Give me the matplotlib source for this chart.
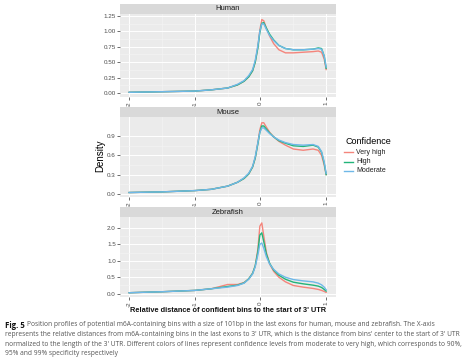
import numpy as np
import matplotlib
matplotlib.use("Agg")
import matplotlib.pyplot as plt

# values
xs = [-2, -1.5, -1, -0.75, -0.5, -0.35, -0.25, -0.18, -0.12, -0.08, -0.04, -0.01, 0.02,
      0.05, 0.09, 0.14, 0.2, 0.28, 0.38, 0.5, 0.65, 0.8, 0.88, 0.93, 0.97, 1.0]

human_vh = [0.01, 0.02, 0.03, 0.05, 0.08, 0.13, 0.19, 0.26, 0.36, 0.5, 0.75, 1.02, 1.19,
            1.17, 1.05, 0.92, 0.8, 0.7, 0.65, 0.65, 0.66, 0.67, 0.68, 0.66, 0.55, 0.38]
human_h = [0.01, 0.02, 0.03, 0.05, 0.08, 0.13, 0.19, 0.26, 0.36, 0.5, 0.73, 0.98, 1.13,
           1.14, 1.05, 0.95, 0.86, 0.77, 0.72, 0.7, 0.7, 0.71, 0.73, 0.72, 0.6, 0.4]
human_m = [0.01, 0.02, 0.03, 0.05, 0.08, 0.14, 0.2, 0.28, 0.38, 0.53, 0.77, 1.0, 1.12,
           1.12, 1.03, 0.93, 0.85, 0.77, 0.72, 0.7, 0.7, 0.71, 0.72, 0.71, 0.6, 0.42]

mouse_vh = [0.02, 0.03, 0.05, 0.07, 0.12, 0.18, 0.24, 0.31, 0.42, 0.56, 0.8, 1.0, 1.11,
            1.11, 1.04, 0.96, 0.89, 0.82, 0.76, 0.7, 0.68, 0.7, 0.68, 0.6, 0.45, 0.3]
mouse_h = [0.02, 0.03, 0.05, 0.07, 0.12, 0.18, 0.24, 0.31, 0.42, 0.56, 0.78, 0.96, 1.06,
           1.06, 1.01, 0.95, 0.89, 0.83, 0.79, 0.75, 0.74, 0.76, 0.73, 0.65, 0.48, 0.3]
mouse_m = [0.02, 0.03, 0.05, 0.07, 0.12, 0.18, 0.25, 0.32, 0.43, 0.58, 0.8, 0.96, 1.03,
           1.03, 0.99, 0.94, 0.89, 0.84, 0.8, 0.77, 0.76, 0.77, 0.74, 0.66, 0.5, 0.32]

zebra_vh = [0.03, 0.06, 0.1, 0.15, 0.28, 0.28, 0.34, 0.45, 0.62, 0.85, 1.35, 2.05, 2.15,
            1.75, 1.25, 0.9, 0.68, 0.5, 0.36, 0.25, 0.2, 0.16, 0.13, 0.1, 0.07, 0.04]
zebra_h = [0.03, 0.06, 0.1, 0.15, 0.22, 0.26, 0.33, 0.45, 0.62, 0.85, 1.28, 1.78, 1.85,
           1.58, 1.2, 0.92, 0.72, 0.56, 0.44, 0.35, 0.3, 0.26, 0.23, 0.19, 0.13, 0.08]
zebra_m = [0.03, 0.06, 0.1, 0.15, 0.2, 0.25, 0.32, 0.44, 0.6, 0.82, 1.18, 1.5, 1.54,
           1.38, 1.12, 0.9, 0.74, 0.6, 0.5, 0.43, 0.39, 0.36, 0.32, 0.27, 0.2, 0.12]

species = ["Human", "Mouse", "Zebrafish"]
levels = ["Very high", "High", "Moderate"]
colors = ["#F4857C", "#22B47A", "#6FB8E8"]
series = [[human_vh, human_h, human_m],
          [mouse_vh, mouse_h, mouse_m],
          [zebra_vh, zebra_h, zebra_m]]
yticks = [[0, 0.25, 0.5, 0.75, 1.0, 1.25],
          [0, 0.3, 0.6, 0.9],
          [0, 0.5, 1.0, 1.5, 2.0]]
ylims = [(-0.066, 1.28), (-0.05, 1.2), (-0.1, 2.33)]

caption = [
    "Position profiles of potential m6A-containing bins with a size of 101bp in the last exons for human, mouse and zebrafish. The X-axis",
    "represents the relative distances from m6A-containing bins in the last exons to 3' UTR, which is the distance from bins' center to the start of 3' UTR",
    "normalized to the length of the 3' UTR. Different colors of lines represent confidence levels from moderate to very high, which corresponds to 90%,",
    "95% and 99% specificity respectively",
]

W, H = 474, 361
fig = plt.figure(figsize=(W / 100, H / 100), dpi=100)
plt.rcParams['font.family'] = ['Liberation Sans', 'DejaVu Sans']

left, right = 120, 336
panel_tops = [14, 117, 217]
panel_bots = [97, 197, 297]
strip_h = 10

for i, name in enumerate(species):
    top, bot = panel_tops[i], panel_bots[i]
    ax = fig.add_axes([left / W, 1 - bot / H, (right - left) / W, (bot - top) / H])
    ax.set_facecolor("#EBEBEB")
    for s in ax.spines.values():
        s.set_visible(False)
    ax.set_xlim(-2.14, 1.15)
    ax.set_ylim(*ylims[i])
    ax.set_xticks([-2, -1, 0, 1])
    ax.set_xticklabels(["-2", "-1", "0", "1"], rotation=90)
    ax.set_xticks([-1.5, -0.5, 0.5], minor=True)
    yt = yticks[i]
    ax.set_yticks(yt)
    ax.set_yticklabels(["%.2f" % v if i == 0 else "%.1f" % v for v in yt])
    ax.set_yticks([(a + b) / 2 for a, b in zip(yt[:-1], yt[1:])], minor=True)
    ax.grid(which="major", color="white", lw=0.7)
    ax.grid(which="minor", color="#F5F5F5", lw=0.4)
    ax.set_axisbelow(True)
    ax.tick_params(which="major", length=2, width=0.5, color="#333333",
                   labelsize=4.5, labelcolor="#4D4D4D", pad=1)
    ax.tick_params(which="minor", length=0)
    for k in range(3):
        ax.plot(xs, series[i][k], color=colors[k], lw=1.0, label=levels[k])

    sax = fig.add_axes([left / W, 1 - top / H, (right - left) / W, strip_h / H])
    sax.set_facecolor("#D9D9D9")
    sax.set_xticks([])
    sax.set_yticks([])
    for s in sax.spines.values():
        s.set_visible(False)
    sax.text(0.5, 0.5, name, ha="center", va="center", fontsize=5.5, color="#1A1A1A")

fig.text(100 / W, 1 - 156 / H, "Density", rotation=90, ha="center", va="center",
         fontsize=7, color="black")
fig.text((left + right) / 2 / W, 1 - 310 / H,
         "Relative distance of confident bins to the start of 3' UTR",
         ha="center", va="center", fontsize=5.3, fontweight="bold", color="#111111")

# legend
fig.text(345 / W, 1 - 142 / H, "Confidence", ha="left", va="center", fontsize=6.5)
for k, lab in enumerate(levels):
    yy = 1 - (152 + 9.5 * k) / H
    fig.add_artist(plt.Line2D([344 / W, 353 / W], [yy, yy], color=colors[k], lw=1.0))
    fig.text(356 / W, yy, lab, ha="left", va="center", fontsize=5, color="#222222")

# caption
cap_y = [325, 334.5, 344, 353.5]
fig.text(5 / W, 1 - cap_y[0] / H, "Fig. 5", ha="left", va="center", fontsize=5.6,
         fontweight="bold", color="#111111", family="Open Sans")
fig.text(27 / W, 1 - cap_y[0] / H, caption[0], ha="left", va="center", fontsize=4.8,
         color="#555555", family="Open Sans")
for j in range(1, 4):
    fig.text(5 / W, 1 - cap_y[j] / H, caption[j], ha="left", va="center", fontsize=4.8,
             color="#555555", family="Open Sans")

fig.savefig("out.png", dpi=100)
